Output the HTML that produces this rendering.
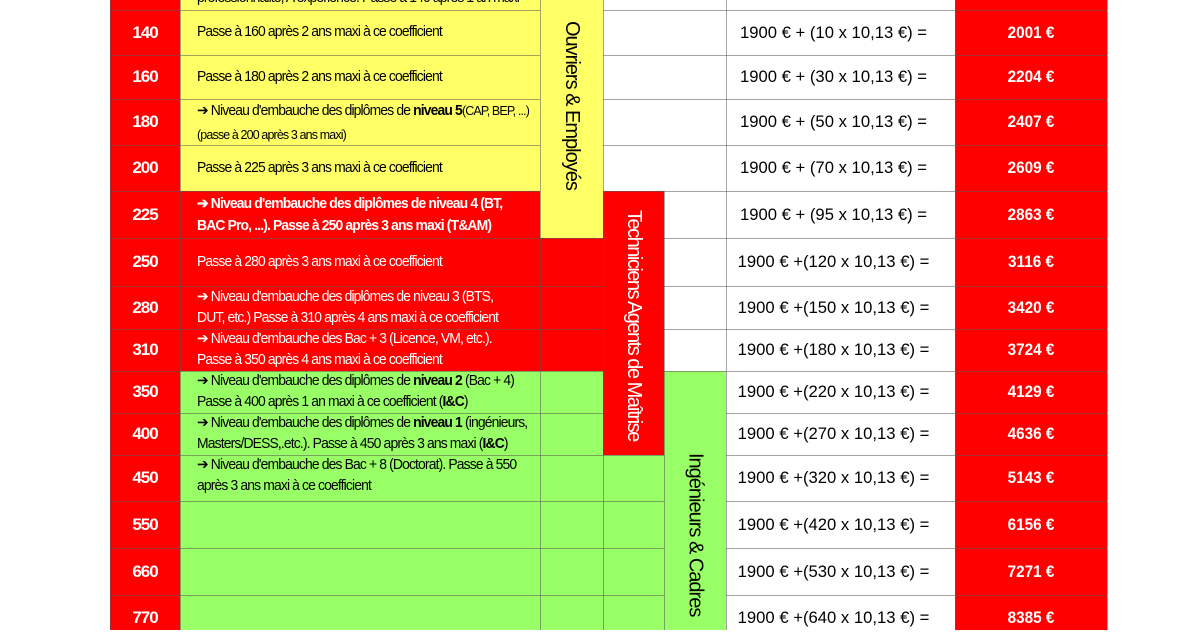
<!DOCTYPE html>
<html><head><meta charset="utf-8"><style>
body{margin:0;width:1200px;height:630px;overflow:hidden;background:#fff;font-family:"Liberation Sans",sans-serif;position:relative}
div{position:absolute;box-sizing:border-box}
.n{left:110px;width:70px;color:#fff;font-weight:bold;font-size:17px;text-align:center;letter-spacing:-1px;display:flex;align-items:center;justify-content:center}
.d{left:197px;width:400px;font-size:14.5px;line-height:21px;letter-spacing:-0.9px;display:flex;flex-direction:column;justify-content:center;transform:scaleX(0.96);transform-origin:left center;white-space:nowrap}
.w{color:#fff}
.f{left:719px;width:229px;font-size:17px;text-align:center;display:flex;align-items:center;justify-content:center;transform:scaleX(.98)}
.r{left:955px;width:152px;color:#fff;font-weight:bold;font-size:17px;display:flex;align-items:center;justify-content:center;transform:scaleX(.9)}
.h{height:1px;background:rgba(90,90,90,.55)}
.v{width:1px;background:rgba(90,90,90,.55)}
.vt{writing-mode:vertical-rl;font-size:20px;letter-spacing:-1px;display:flex;align-items:center;justify-content:center;white-space:nowrap}
</style></head><body>
<div style="left:110px;top:0;width:70px;height:630px;background:#f00"></div>
<div style="left:180px;top:0;width:360px;height:191px;background:#ffff66"></div>
<div style="left:180px;top:191px;width:360px;height:180px;background:#f00"></div>
<div style="left:180px;top:371px;width:360px;height:259px;background:#99ff66"></div>
<div style="left:540px;top:0;width:63px;height:238px;background:#ffff66"></div>
<div style="left:540px;top:238px;width:63px;height:133px;background:#f00"></div>
<div style="left:540px;top:371px;width:63px;height:259px;background:#99ff66"></div>
<div style="left:603px;top:191px;width:61px;height:264px;background:#f00"></div>
<div style="left:603px;top:455px;width:61px;height:175px;background:#99ff66"></div>
<div style="left:664px;top:371px;width:62px;height:259px;background:#99ff66"></div>
<div style="left:955px;top:0;width:152px;height:630px;background:#f00"></div>

<div class="h" style="left:110px;top:10px;width:430px"></div><div class="h" style="left:603px;top:10px;width:504px"></div>
<div class="h" style="left:110px;top:55px;width:430px"></div><div class="h" style="left:603px;top:55px;width:504px"></div>
<div class="h" style="left:110px;top:99px;width:430px"></div><div class="h" style="left:603px;top:99px;width:504px"></div>
<div class="h" style="left:110px;top:145px;width:430px"></div><div class="h" style="left:603px;top:145px;width:504px"></div>
<div class="h" style="left:110px;top:191px;width:430px"></div><div class="h" style="left:603px;top:191px;width:504px"></div>
<div class="h" style="left:110px;top:238px;width:493px"></div><div class="h" style="left:664px;top:238px;width:443px"></div>
<div class="h" style="left:110px;top:286px;width:493px"></div><div class="h" style="left:664px;top:286px;width:443px"></div>
<div class="h" style="left:110px;top:329px;width:493px"></div><div class="h" style="left:664px;top:329px;width:443px"></div>
<div class="h" style="left:110px;top:371px;width:493px"></div><div class="h" style="left:664px;top:371px;width:443px"></div>
<div class="h" style="left:110px;top:413px;width:493px"></div><div class="h" style="left:726px;top:413px;width:381px"></div>
<div class="h" style="left:110px;top:455px;width:554px"></div><div class="h" style="left:726px;top:455px;width:381px"></div>
<div class="h" style="left:110px;top:501px;width:554px"></div><div class="h" style="left:726px;top:501px;width:381px"></div>
<div class="h" style="left:110px;top:548px;width:554px"></div><div class="h" style="left:726px;top:548px;width:381px"></div>
<div class="h" style="left:110px;top:595px;width:554px"></div><div class="h" style="left:726px;top:595px;width:381px"></div>

<div class="v" style="left:110px;top:0;height:630px"></div>
<div class="v" style="left:180px;top:0;height:630px"></div>
<div class="v" style="left:540px;top:0;height:630px"></div>
<div class="v" style="left:603px;top:0;height:630px"></div>
<div class="v" style="left:664px;top:191px;height:439px"></div>
<div class="v" style="left:726px;top:0;height:630px"></div>
<div class="v" style="left:955px;top:0;height:630px"></div>
<div class="v" style="left:1107px;top:0;height:630px"></div>

<div class="n" style="top:10px;height:45px">140</div>
<div class="n" style="top:55px;height:44px">160</div>
<div class="n" style="top:99px;height:46px">180</div>
<div class="n" style="top:145px;height:46px">200</div>
<div class="n" style="top:191px;height:47px">225</div>
<div class="n" style="top:238px;height:48px">250</div>
<div class="n" style="top:286px;height:43px">280</div>
<div class="n" style="top:329px;height:42px">310</div>
<div class="n" style="top:371px;height:42px">350</div>
<div class="n" style="top:413px;height:42px">400</div>
<div class="n" style="top:455px;height:46px">450</div>
<div class="n" style="top:501px;height:47px">550</div>
<div class="n" style="top:548px;height:47px">660</div>
<div class="n" style="top:595px;height:46px">770</div>

<div class="d" style="top:-12px;height:20px">professionnalité, A expérience. Passe à 140 après 1 an maxi</div>
<div class="d" style="top:10px;height:45px">Passe à 160 après 2 ans maxi à ce coefficient</div>
<div class="d" style="top:55px;height:44px">Passe à 180 après 2 ans maxi à ce coefficient</div>
<div class="d" style="top:99px;height:46px;line-height:23px"><span>➔ Niveau d'embauche des diplômes de <b>niveau 5</b><span style="font-size:13px">(CAP, BEP, ...)</span></span><span style="font-size:13px">(passe à 200 après 3 ans maxi)</span></div>
<div class="d" style="top:145px;height:46px">Passe à 225 après 3 ans maxi à ce coefficient</div>
<div class="d w" style="top:191px;height:47px;font-weight:bold;line-height:22px"><span>➔ Niveau d'embauche des diplômes de niveau 4 (BT,</span><span>BAC Pro, ...). Passe à 250 après 3 ans maxi (T&amp;AM)</span></div>
<div class="d w" style="top:238px;height:48px">Passe à 280 après 3 ans maxi à ce coefficient</div>
<div class="d w" style="top:286px;height:43px"><span>➔ Niveau d'embauche des diplômes de niveau 3 (BTS,</span><span>DUT, etc.) Passe à 310 après 4 ans maxi à ce coefficient</span></div>
<div class="d w" style="top:329px;height:42px"><span>➔ Niveau d'embauche des Bac + 3 (Licence, VM, etc.).</span><span>Passe à 350 après 4 ans maxi à ce coefficient</span></div>
<div class="d" style="top:371px;height:42px"><span>➔ Niveau d'embauche des diplômes de <b>niveau 2</b> (Bac + 4)</span><span>Passe à 400 après 1 an maxi à ce coefficient (<b>I&amp;C</b>)</span></div>
<div class="d" style="top:413px;height:42px"><span>➔ Niveau d'embauche des diplômes de <b>niveau 1</b> (ingénieurs,</span><span>Masters/DESS,.etc.). Passe à 450 après 3 ans maxi (<b>I&amp;C</b>)</span></div>
<div class="d" style="top:455px;height:46px;justify-content:flex-start;padding-top:0px"><span>➔ Niveau d'embauche des Bac + 8 (Doctorat). Passe à 550</span><span>après 3 ans maxi à ce coefficient</span></div>

<div class="vt" style="left:540px;top:10px;width:63px;height:190px">Ouvriers &amp; Employés</div>
<div class="vt" style="left:603px;top:195px;width:61px;height:260px;color:#fff;letter-spacing:-1.5px">Techniciens Agents de Maîtrise</div>
<div class="vt" style="left:664px;top:440px;width:62px;height:190px">Ingénieurs &amp; Cadres</div>

<div class="f" style="top:10px;height:45px">1900 € + (10 x 10,13 €) =</div>
<div class="f" style="top:55px;height:44px">1900 € + (30 x 10,13 €) =</div>
<div class="f" style="top:99px;height:46px">1900 € + (50 x 10,13 €) =</div>
<div class="f" style="top:145px;height:46px">1900 € + (70 x 10,13 €) =</div>
<div class="f" style="top:191px;height:47px">1900 € + (95 x 10,13 €) =</div>
<div class="f" style="top:238px;height:48px">1900 € +(120 x 10,13 €) =</div>
<div class="f" style="top:286px;height:43px">1900 € +(150 x 10,13 €) =</div>
<div class="f" style="top:329px;height:42px">1900 € +(180 x 10,13 €) =</div>
<div class="f" style="top:371px;height:42px">1900 € +(220 x 10,13 €) =</div>
<div class="f" style="top:413px;height:42px">1900 € +(270 x 10,13 €) =</div>
<div class="f" style="top:455px;height:46px">1900 € +(320 x 10,13 €) =</div>
<div class="f" style="top:501px;height:47px">1900 € +(420 x 10,13 €) =</div>
<div class="f" style="top:548px;height:47px">1900 € +(530 x 10,13 €) =</div>
<div class="f" style="top:595px;height:46px">1900 € +(640 x 10,13 €) =</div>

<div class="r" style="top:10px;height:45px">2001 €</div>
<div class="r" style="top:55px;height:44px">2204 €</div>
<div class="r" style="top:99px;height:46px">2407 €</div>
<div class="r" style="top:145px;height:46px">2609 €</div>
<div class="r" style="top:191px;height:47px">2863 €</div>
<div class="r" style="top:238px;height:48px">3116 €</div>
<div class="r" style="top:286px;height:43px">3420 €</div>
<div class="r" style="top:329px;height:42px">3724 €</div>
<div class="r" style="top:371px;height:42px">4129 €</div>
<div class="r" style="top:413px;height:42px">4636 €</div>
<div class="r" style="top:455px;height:46px">5143 €</div>
<div class="r" style="top:501px;height:47px">6156 €</div>
<div class="r" style="top:548px;height:47px">7271 €</div>
<div class="r" style="top:595px;height:46px">8385 €</div>
</body></html>
